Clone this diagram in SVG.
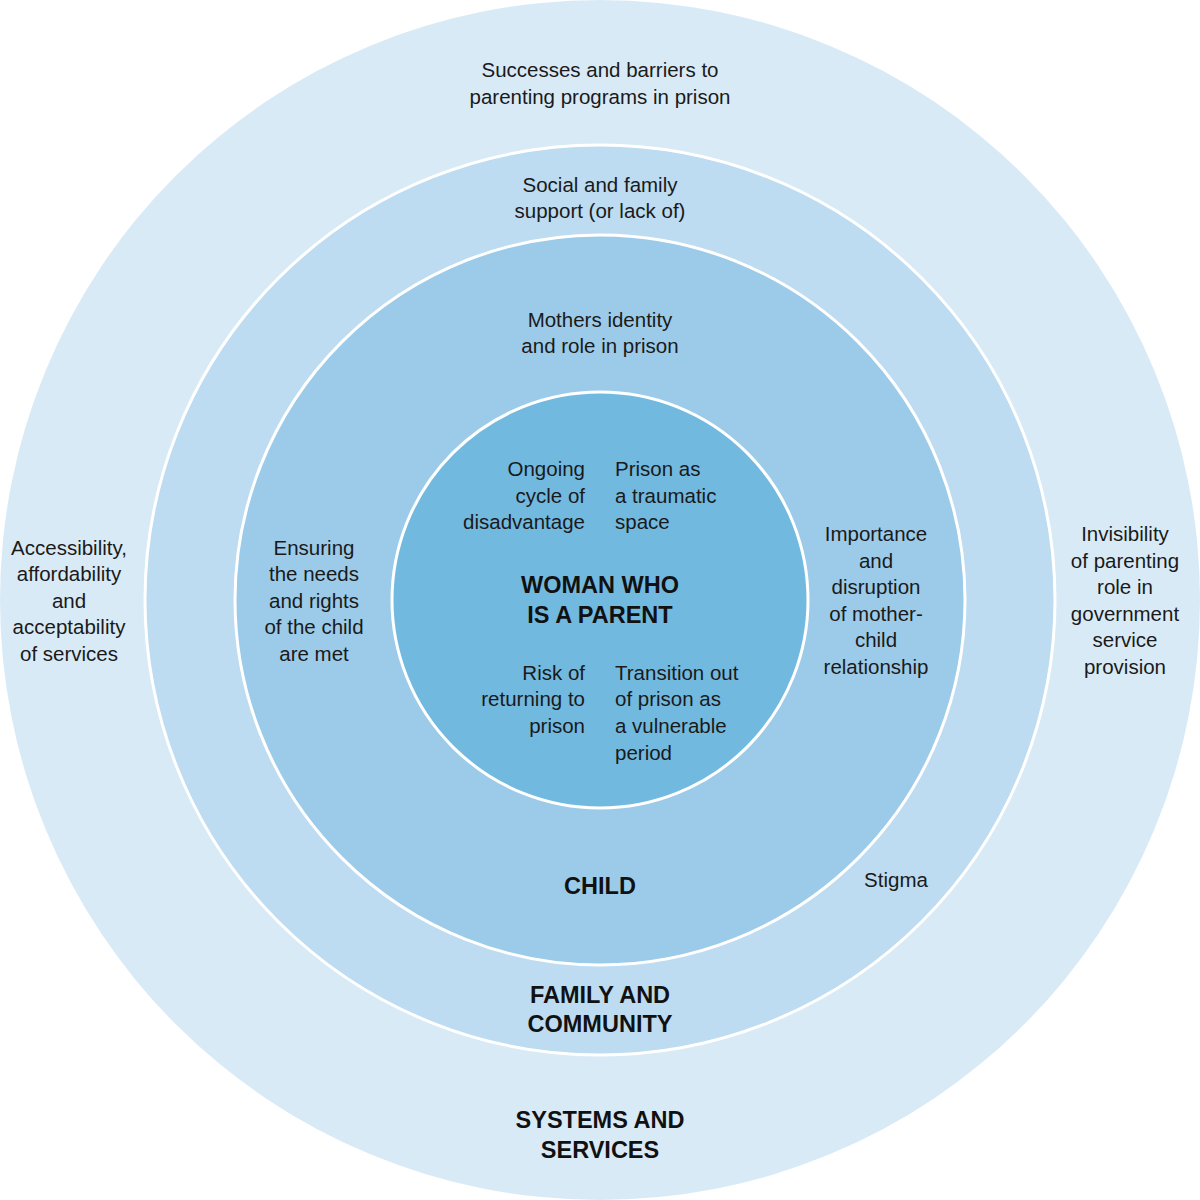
<svg xmlns="http://www.w3.org/2000/svg" width="1200" height="1200" viewBox="0 0 1200 1200">
<style>
.t{font-family:"Liberation Sans",Arial,sans-serif;font-size:20.5px;fill:#1a1a1a;text-anchor:middle}
.b{font-family:"Liberation Sans",Arial,sans-serif;font-size:23.5px;font-weight:bold;fill:#111111;text-anchor:middle}
.r{text-anchor:end}
.l{text-anchor:start}
.ring{stroke:#ffffff;stroke-width:3}
</style>
<rect width="1200" height="1200" fill="#ffffff"/>
<g id="systems">
<circle cx="600" cy="600" r="600" fill="#d9eaf7"/>
<text class="t" x="600" y="77">Successes and barriers to</text>
<text class="t" x="600" y="104">parenting programs in prison</text>
<text class="t" x="69" y="555">Accessibility,</text>
<text class="t" x="69" y="581">affordability</text>
<text class="t" x="69" y="608">and</text>
<text class="t" x="69" y="634">acceptability</text>
<text class="t" x="69" y="661">of services</text>
<text class="t" x="1125" y="541">Invisibility</text>
<text class="t" x="1125" y="568">of parenting</text>
<text class="t" x="1125" y="594">role in</text>
<text class="t" x="1125" y="621">government</text>
<text class="t" x="1125" y="647">service</text>
<text class="t" x="1125" y="674">provision</text>
<text class="b" x="600" y="1128">SYSTEMS AND</text>
<text class="b" x="600" y="1158">SERVICES</text>
</g>
<g id="family">
<circle class="ring" cx="600" cy="600" r="455" fill="#bddcf1"/>
<text class="t" x="600" y="192">Social and family</text>
<text class="t" x="600" y="218">support (or lack of)</text>
<text class="t" x="896" y="887">Stigma</text>
<text class="b" x="600" y="1003">FAMILY AND</text>
<text class="b" x="600" y="1032">COMMUNITY</text>
</g>
<g id="child">
<circle class="ring" cx="600" cy="600" r="365" fill="#9ccbe9"/>
<text class="t" x="600" y="327">Mothers identity</text>
<text class="t" x="600" y="353">and role in prison</text>
<text class="t" x="314" y="555">Ensuring</text>
<text class="t" x="314" y="581">the needs</text>
<text class="t" x="314" y="608">and rights</text>
<text class="t" x="314" y="634">of the child</text>
<text class="t" x="314" y="661">are met</text>
<text class="t" x="876" y="541">Importance</text>
<text class="t" x="876" y="568">and</text>
<text class="t" x="876" y="594">disruption</text>
<text class="t" x="876" y="621">of mother-</text>
<text class="t" x="876" y="647">child</text>
<text class="t" x="876" y="674">relationship</text>
<text class="b" x="600" y="894">CHILD</text>
</g>
<g id="woman">
<circle class="ring" cx="600" cy="600" r="208" fill="#72b9e0"/>
<text class="t r" x="585" y="476">Ongoing</text>
<text class="t r" x="585" y="503">cycle of</text>
<text class="t r" x="585" y="529">disadvantage</text>
<text class="t l" x="615" y="476">Prison as</text>
<text class="t l" x="615" y="503">a traumatic</text>
<text class="t l" x="615" y="529">space</text>
<text class="b" x="600" y="593">WOMAN WHO</text>
<text class="b" x="600" y="623">IS A PARENT</text>
<text class="t r" x="585" y="680">Risk of</text>
<text class="t r" x="585" y="706">returning to</text>
<text class="t r" x="585" y="733">prison</text>
<text class="t l" x="615" y="680">Transition out</text>
<text class="t l" x="615" y="706">of prison as</text>
<text class="t l" x="615" y="733">a vulnerable</text>
<text class="t l" x="615" y="760">period</text>
</g>
<g id="connectors"></g>
</svg>
